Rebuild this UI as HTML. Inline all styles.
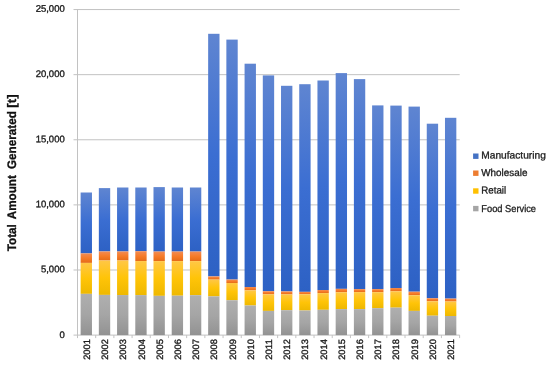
<!DOCTYPE html>
<html><head><meta charset="utf-8"><title>Total Amount Generated</title>
<style>
html,body{margin:0;padding:0;background:#fff;}
body{width:550px;height:368px;overflow:hidden;}
svg{display:block;}
text{font-family:"Liberation Sans",sans-serif;fill:#1c1c1c;stroke:#1c1c1c;stroke-width:0.35;text-rendering:geometricPrecision;}
</style></head><body>
<svg width="550" height="368" viewBox="0 0 550 368">
<defs>
<linearGradient id="gb" x1="0" y1="0" x2="0" y2="1"><stop offset="0" stop-color="#5F85D1"/><stop offset="0.5" stop-color="#3B6ED2"/><stop offset="1" stop-color="#2D61C4"/></linearGradient>
<linearGradient id="go" x1="0" y1="0" x2="0" y2="1"><stop offset="0" stop-color="#F18C55"/><stop offset="0.5" stop-color="#F67B28"/><stop offset="1" stop-color="#E56B17"/></linearGradient>
<linearGradient id="gy" x1="0" y1="0" x2="0" y2="1"><stop offset="0" stop-color="#FFC746"/><stop offset="0.5" stop-color="#FFC408"/><stop offset="1" stop-color="#EEB800"/></linearGradient>
<linearGradient id="gg" x1="0" y1="0" x2="0" y2="1"><stop offset="0" stop-color="#AFAFAF"/><stop offset="0.5" stop-color="#A5A5A5"/><stop offset="1" stop-color="#929292"/></linearGradient>
</defs>
<rect width="550" height="368" fill="#fff"/>

<g stroke="#C2C2C2" stroke-width="1" fill="none">
<line x1="73.5" y1="335.10" x2="459.70" y2="335.10"/>
<line x1="73.5" y1="269.99" x2="459.70" y2="269.99"/>
<line x1="73.5" y1="204.88" x2="459.70" y2="204.88"/>
<line x1="73.5" y1="139.77" x2="459.70" y2="139.77"/>
<line x1="73.5" y1="74.66" x2="459.70" y2="74.66"/>
<line x1="73.5" y1="9.55" x2="459.70" y2="9.55"/>
<line x1="77.5" y1="9.55" x2="77.5" y2="338.1"/>
<line x1="95.70" y1="335.1" x2="95.70" y2="338.1"/>
<line x1="113.89" y1="335.1" x2="113.89" y2="338.1"/>
<line x1="132.09" y1="335.1" x2="132.09" y2="338.1"/>
<line x1="150.28" y1="335.1" x2="150.28" y2="338.1"/>
<line x1="168.48" y1="335.1" x2="168.48" y2="338.1"/>
<line x1="186.67" y1="335.1" x2="186.67" y2="338.1"/>
<line x1="204.87" y1="335.1" x2="204.87" y2="338.1"/>
<line x1="223.06" y1="335.1" x2="223.06" y2="338.1"/>
<line x1="241.26" y1="335.1" x2="241.26" y2="338.1"/>
<line x1="259.45" y1="335.1" x2="259.45" y2="338.1"/>
<line x1="277.65" y1="335.1" x2="277.65" y2="338.1"/>
<line x1="295.84" y1="335.1" x2="295.84" y2="338.1"/>
<line x1="314.04" y1="335.1" x2="314.04" y2="338.1"/>
<line x1="332.23" y1="335.1" x2="332.23" y2="338.1"/>
<line x1="350.43" y1="335.1" x2="350.43" y2="338.1"/>
<line x1="368.62" y1="335.1" x2="368.62" y2="338.1"/>
<line x1="386.82" y1="335.1" x2="386.82" y2="338.1"/>
<line x1="405.01" y1="335.1" x2="405.01" y2="338.1"/>
<line x1="423.21" y1="335.1" x2="423.21" y2="338.1"/>
<line x1="441.40" y1="335.1" x2="441.40" y2="338.1"/>
<line x1="459.60" y1="335.1" x2="459.60" y2="338.1"/>
</g>
<g>
<rect x="80.62" y="192.50" width="11.35" height="60.90" fill="url(#gb)"/>
<rect x="80.62" y="253.40" width="11.35" height="9.50" fill="url(#go)"/>
<rect x="80.62" y="262.90" width="11.35" height="30.95" fill="url(#gy)"/>
<rect x="80.62" y="293.85" width="11.35" height="41.25" fill="url(#gg)"/>
<rect x="98.84" y="188.10" width="11.35" height="63.35" fill="url(#gb)"/>
<rect x="98.84" y="251.45" width="11.35" height="9.05" fill="url(#go)"/>
<rect x="98.84" y="260.50" width="11.35" height="34.40" fill="url(#gy)"/>
<rect x="98.84" y="294.90" width="11.35" height="40.20" fill="url(#gg)"/>
<rect x="117.06" y="187.50" width="11.35" height="63.95" fill="url(#gb)"/>
<rect x="117.06" y="251.45" width="11.35" height="9.05" fill="url(#go)"/>
<rect x="117.06" y="260.50" width="11.35" height="34.55" fill="url(#gy)"/>
<rect x="117.06" y="295.05" width="11.35" height="40.05" fill="url(#gg)"/>
<rect x="135.28" y="187.50" width="11.35" height="63.70" fill="url(#gb)"/>
<rect x="135.28" y="251.20" width="11.35" height="9.85" fill="url(#go)"/>
<rect x="135.28" y="261.05" width="11.35" height="34.05" fill="url(#gy)"/>
<rect x="135.28" y="295.10" width="11.35" height="40.00" fill="url(#gg)"/>
<rect x="153.49" y="187.10" width="11.35" height="64.45" fill="url(#gb)"/>
<rect x="153.49" y="251.55" width="11.35" height="9.55" fill="url(#go)"/>
<rect x="153.49" y="261.10" width="11.35" height="34.75" fill="url(#gy)"/>
<rect x="153.49" y="295.85" width="11.35" height="39.25" fill="url(#gg)"/>
<rect x="171.71" y="187.50" width="11.35" height="64.05" fill="url(#gb)"/>
<rect x="171.71" y="251.55" width="11.35" height="9.55" fill="url(#go)"/>
<rect x="171.71" y="261.10" width="11.35" height="34.60" fill="url(#gy)"/>
<rect x="171.71" y="295.70" width="11.35" height="39.40" fill="url(#gg)"/>
<rect x="189.93" y="187.50" width="11.35" height="64.05" fill="url(#gb)"/>
<rect x="189.93" y="251.55" width="11.35" height="9.55" fill="url(#go)"/>
<rect x="189.93" y="261.10" width="11.35" height="34.10" fill="url(#gy)"/>
<rect x="189.93" y="295.20" width="11.35" height="39.90" fill="url(#gg)"/>
<rect x="208.15" y="33.80" width="11.35" height="242.60" fill="url(#gb)"/>
<rect x="208.15" y="276.40" width="11.35" height="3.20" fill="url(#go)"/>
<rect x="208.15" y="279.60" width="11.35" height="16.80" fill="url(#gy)"/>
<rect x="208.15" y="296.40" width="11.35" height="38.70" fill="url(#gg)"/>
<rect x="226.36" y="39.60" width="11.35" height="239.95" fill="url(#gb)"/>
<rect x="226.36" y="279.55" width="11.35" height="3.45" fill="url(#go)"/>
<rect x="226.36" y="283.00" width="11.35" height="17.25" fill="url(#gy)"/>
<rect x="226.36" y="300.25" width="11.35" height="34.85" fill="url(#gg)"/>
<rect x="244.58" y="63.70" width="11.35" height="223.30" fill="url(#gb)"/>
<rect x="244.58" y="287.00" width="11.35" height="3.35" fill="url(#go)"/>
<rect x="244.58" y="290.35" width="11.35" height="15.15" fill="url(#gy)"/>
<rect x="244.58" y="305.50" width="11.35" height="29.60" fill="url(#gg)"/>
<rect x="262.80" y="75.40" width="11.35" height="215.80" fill="url(#gb)"/>
<rect x="262.80" y="291.20" width="11.35" height="3.10" fill="url(#go)"/>
<rect x="262.80" y="294.30" width="11.35" height="16.60" fill="url(#gy)"/>
<rect x="262.80" y="310.90" width="11.35" height="24.20" fill="url(#gg)"/>
<rect x="281.02" y="85.80" width="11.35" height="205.60" fill="url(#gb)"/>
<rect x="281.02" y="291.40" width="11.35" height="3.00" fill="url(#go)"/>
<rect x="281.02" y="294.40" width="11.35" height="15.80" fill="url(#gy)"/>
<rect x="281.02" y="310.20" width="11.35" height="24.90" fill="url(#gg)"/>
<rect x="299.24" y="84.20" width="11.35" height="207.65" fill="url(#gb)"/>
<rect x="299.24" y="291.85" width="11.35" height="2.40" fill="url(#go)"/>
<rect x="299.24" y="294.25" width="11.35" height="16.25" fill="url(#gy)"/>
<rect x="299.24" y="310.50" width="11.35" height="24.60" fill="url(#gg)"/>
<rect x="317.45" y="80.50" width="11.35" height="209.50" fill="url(#gb)"/>
<rect x="317.45" y="290.00" width="11.35" height="3.10" fill="url(#go)"/>
<rect x="317.45" y="293.10" width="11.35" height="16.70" fill="url(#gy)"/>
<rect x="317.45" y="309.80" width="11.35" height="25.30" fill="url(#gg)"/>
<rect x="335.67" y="73.10" width="11.35" height="215.75" fill="url(#gb)"/>
<rect x="335.67" y="288.85" width="11.35" height="3.40" fill="url(#go)"/>
<rect x="335.67" y="292.25" width="11.35" height="16.85" fill="url(#gy)"/>
<rect x="335.67" y="309.10" width="11.35" height="26.00" fill="url(#gg)"/>
<rect x="353.89" y="79.10" width="11.35" height="210.00" fill="url(#gb)"/>
<rect x="353.89" y="289.10" width="11.35" height="3.00" fill="url(#go)"/>
<rect x="353.89" y="292.10" width="11.35" height="17.00" fill="url(#gy)"/>
<rect x="353.89" y="309.10" width="11.35" height="26.00" fill="url(#gg)"/>
<rect x="372.11" y="105.40" width="11.35" height="183.70" fill="url(#gb)"/>
<rect x="372.11" y="289.10" width="11.35" height="3.10" fill="url(#go)"/>
<rect x="372.11" y="292.20" width="11.35" height="16.00" fill="url(#gy)"/>
<rect x="372.11" y="308.20" width="11.35" height="26.90" fill="url(#gg)"/>
<rect x="390.32" y="105.60" width="11.35" height="182.40" fill="url(#gb)"/>
<rect x="390.32" y="288.00" width="11.35" height="3.30" fill="url(#go)"/>
<rect x="390.32" y="291.30" width="11.35" height="16.35" fill="url(#gy)"/>
<rect x="390.32" y="307.65" width="11.35" height="27.45" fill="url(#gg)"/>
<rect x="408.54" y="106.60" width="11.35" height="185.10" fill="url(#gb)"/>
<rect x="408.54" y="291.70" width="11.35" height="3.55" fill="url(#go)"/>
<rect x="408.54" y="295.25" width="11.35" height="15.65" fill="url(#gy)"/>
<rect x="408.54" y="310.90" width="11.35" height="24.20" fill="url(#gg)"/>
<rect x="426.76" y="123.70" width="11.35" height="174.50" fill="url(#gb)"/>
<rect x="426.76" y="298.20" width="11.35" height="3.05" fill="url(#go)"/>
<rect x="426.76" y="301.25" width="11.35" height="14.45" fill="url(#gy)"/>
<rect x="426.76" y="315.70" width="11.35" height="19.40" fill="url(#gg)"/>
<rect x="444.98" y="117.80" width="11.35" height="180.80" fill="url(#gb)"/>
<rect x="444.98" y="298.60" width="11.35" height="2.90" fill="url(#go)"/>
<rect x="444.98" y="301.50" width="11.35" height="14.50" fill="url(#gy)"/>
<rect x="444.98" y="316.00" width="11.35" height="19.10" fill="url(#gg)"/>
</g>
<g font-size="9.5" text-anchor="end">
<text transform="translate(64.7,338.00) rotate(0.03)">0</text>
<text transform="translate(64.7,272.25) rotate(0.03)">5,000</text>
<text transform="translate(64.7,207.25) rotate(0.03)">10,000</text>
<text transform="translate(64.7,142.25) rotate(0.03)">15,000</text>
<text transform="translate(64.7,77.10) rotate(0.03)">20,000</text>
<text transform="translate(64.7,11.70) rotate(0.03)">25,000</text>
</g>
<g font-size="9.3" text-anchor="end">
<text transform="translate(89.90,339.2) rotate(-90)" textLength="20.6" lengthAdjust="spacingAndGlyphs">2001</text>
<text transform="translate(108.11,339.2) rotate(-90)" textLength="20.6" lengthAdjust="spacingAndGlyphs">2002</text>
<text transform="translate(126.32,339.2) rotate(-90)" textLength="20.6" lengthAdjust="spacingAndGlyphs">2003</text>
<text transform="translate(144.53,339.2) rotate(-90)" textLength="20.6" lengthAdjust="spacingAndGlyphs">2004</text>
<text transform="translate(162.74,339.2) rotate(-90)" textLength="20.6" lengthAdjust="spacingAndGlyphs">2005</text>
<text transform="translate(180.95,339.2) rotate(-90)" textLength="20.6" lengthAdjust="spacingAndGlyphs">2006</text>
<text transform="translate(199.16,339.2) rotate(-90)" textLength="20.6" lengthAdjust="spacingAndGlyphs">2007</text>
<text transform="translate(217.37,339.2) rotate(-90)" textLength="20.6" lengthAdjust="spacingAndGlyphs">2008</text>
<text transform="translate(235.58,339.2) rotate(-90)" textLength="20.6" lengthAdjust="spacingAndGlyphs">2009</text>
<text transform="translate(253.79,339.2) rotate(-90)" textLength="20.6" lengthAdjust="spacingAndGlyphs">2010</text>
<text transform="translate(272.00,339.2) rotate(-90)" textLength="20.6" lengthAdjust="spacingAndGlyphs">2011</text>
<text transform="translate(290.21,339.2) rotate(-90)" textLength="20.6" lengthAdjust="spacingAndGlyphs">2012</text>
<text transform="translate(308.42,339.2) rotate(-90)" textLength="20.6" lengthAdjust="spacingAndGlyphs">2013</text>
<text transform="translate(326.63,339.2) rotate(-90)" textLength="20.6" lengthAdjust="spacingAndGlyphs">2014</text>
<text transform="translate(344.84,339.2) rotate(-90)" textLength="20.6" lengthAdjust="spacingAndGlyphs">2015</text>
<text transform="translate(363.05,339.2) rotate(-90)" textLength="20.6" lengthAdjust="spacingAndGlyphs">2016</text>
<text transform="translate(381.26,339.2) rotate(-90)" textLength="20.6" lengthAdjust="spacingAndGlyphs">2017</text>
<text transform="translate(399.47,339.2) rotate(-90)" textLength="20.6" lengthAdjust="spacingAndGlyphs">2018</text>
<text transform="translate(417.68,339.2) rotate(-90)" textLength="20.6" lengthAdjust="spacingAndGlyphs">2019</text>
<text transform="translate(435.89,339.2) rotate(-90)" textLength="20.6" lengthAdjust="spacingAndGlyphs">2020</text>
<text transform="translate(454.10,339.2) rotate(-90)" textLength="20.6" lengthAdjust="spacingAndGlyphs">2021</text>
</g>
<text transform="translate(16.35,251.5) rotate(-90)" font-size="12.4" font-weight="bold" style="fill:#111;stroke:#111;stroke-width:0.3"><tspan x="0.27" textLength="27.04" lengthAdjust="spacingAndGlyphs">Total</tspan> <tspan x="32.35" textLength="43.96" lengthAdjust="spacingAndGlyphs">Amount</tspan> <tspan x="82.47" textLength="57.84" lengthAdjust="spacingAndGlyphs">Generated</tspan> <tspan x="143.80" textLength="13.32" lengthAdjust="spacingAndGlyphs">[t]</tspan></text>
<rect x="473.1" y="153.50" width="5.4" height="5.4" fill="#4472C4"/>
<text transform="translate(481.3,158.60) rotate(-0.03)" font-size="10" style="stroke-width:0.3" textLength="64.5" lengthAdjust="spacingAndGlyphs">Manufacturing</text>
<rect x="473.1" y="170.50" width="5.4" height="5.4" fill="#ED7D31"/>
<text transform="translate(481.3,176.00) rotate(-0.03)" font-size="10" style="stroke-width:0.3" textLength="46.1" lengthAdjust="spacingAndGlyphs">Wholesale</text>
<rect x="473.1" y="188.30" width="5.4" height="5.4" fill="#FFC000"/>
<text transform="translate(481.3,193.40) rotate(-0.03)" font-size="10" style="stroke-width:0.3" textLength="24.8" lengthAdjust="spacingAndGlyphs">Retail</text>
<rect x="473.1" y="205.90" width="5.4" height="5.4" fill="#A5A5A5"/>
<text transform="translate(481.3,211.60) rotate(-0.03)" font-size="10" style="stroke-width:0.3" textLength="54.7" lengthAdjust="spacingAndGlyphs">Food Service</text>
</svg></body></html>
